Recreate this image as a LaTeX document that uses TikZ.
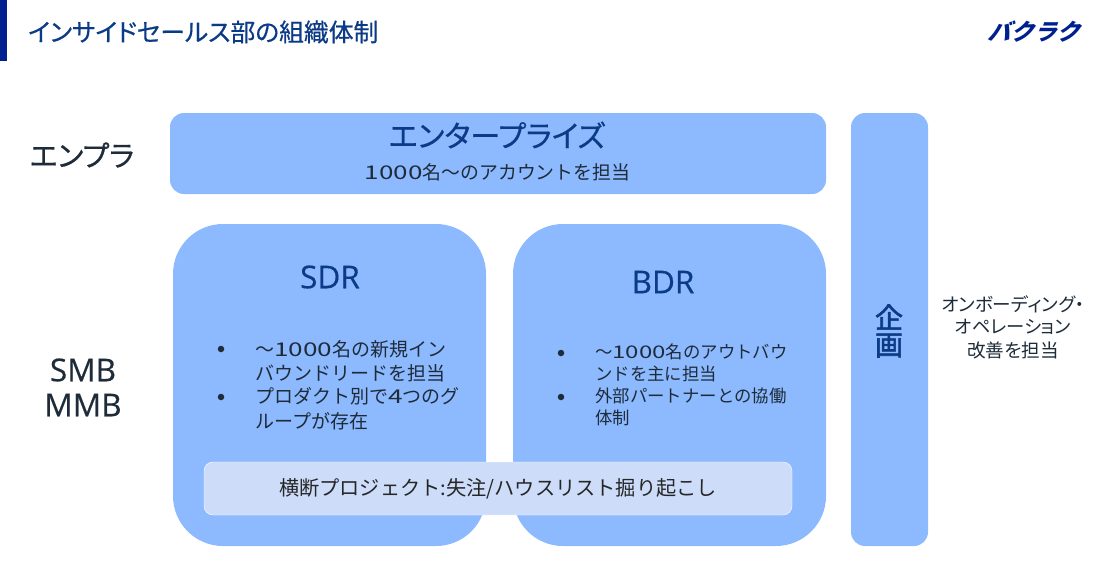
\documentclass[tikz,border=0pt]{standalone}
\usepackage{fontspec}
\setmainfont{Noto Sans CJK JP}
\newfontfamily\paltfont[RawFeature=+palt]{Noto Sans CJK JP}
\newfontfamily\medfont[FakeBold=0.5,RawFeature=+palt]{Noto Sans CJK JP}
\newfontfamily\heavyfont[FakeBold=2]{Noto Sans CJK JP}
\newfontfamily\latinfont[FakeBold=0.4]{Open Sans}
\definecolor{panelblue}{HTML}{8DB9FF}
\definecolor{barblue}{HTML}{CCDCF9}
\definecolor{navy}{HTML}{0B3A86}
\definecolor{logoblue}{HTML}{00208F}
\definecolor{inktext}{HTML}{1E2C3A}
\newcommand{\fs}[1]{\fontsize{#1}{#1}\selectfont}
\newcommand{\widedigits}[1]{\scalebox{1.38}[1]{#1}}

\begin{document}
\begin{tikzpicture}[x=1pt, y=-1pt,
    panel/.style={fill=panelblue, rounded corners=#1, inner sep=0},
    head/.style={text=navy, inner sep=0},
    body/.style={text=inktext, inner sep=0, align=center},
    dotmark/.style={circle, fill=inktext, minimum size=6.5pt, inner sep=0},
]

    % Page size
    \def\xmax{1099}
    \def\ymax{573}
    \useasboundingbox (0,0) rectangle (\xmax,\ymax);

    % Title
    \fill[logoblue] (0,0) rectangle (7,61);
    \node[head, anchor=west] (title) at (28,32) {\fs{24.8}\medfont インサイドセールス部の組織体制};
    \node[text=logoblue, inner sep=0, xslant=0.35, transform shape] (logo) at (1037,32) {\fs{23}\bfseries バクラク};

    % Panels
    \fill[panel=14pt] (170,113) rectangle (826,194);
    \fill[panel=50pt] (173,224) rectangle (486,546);
    \fill[panel=50pt] (513,224) rectangle (826,546);
    \fill[panel=14pt] (851,113) rectangle (928,546);

    % Row labels
    \node[body] (enpura) at (82,155) {\fs{29}\medfont エンプラ};
    \node[body] (smb) at (83,370) {\fs{31.5}\latinfont SMB};
    \node[body] (mmb) at (83,405) {\fs{31.5}\latinfont MMB};

    % Enterprise
    \node[head] (enterprise) at (497,135) {\fs{30}\medfont エンタープライズ};
    \node[body] (enterprisesub) at (497.5,172) {\fs{18.9}\widedigits{1000}名〜のアカウントを担当};

    % SDR
    \node[head] (sdr) at (330,277) {\fs{31.5}\latinfont SDR};
    \foreach \n/\y/\s in {a/349/〜\widedigits{1000}名の新規イン, b/373/バウンドリードを担当, c/396/プロダクト別で\widedigits{4}つのグ, d/421/ループが存在}{
        \node[body, anchor=west] (sdr\n) at (255,\y) {\fs{19}\s};
    }
    \node[dotmark] (sdrdota) at (221,349) {};
    \node[dotmark] (sdrdotb) at (221,397) {};

    % BDR
    \node[head] (bdr) at (663,282) {\fs{31.5}\latinfont BDR};
    \foreach \n/\y/\s in {a/352/〜\widedigits{1000}名のアウトバウ, b/374/ンドを主に担当, c/396/外部パートナーとの協働, d/418/体制}{
        \node[body, anchor=west] (bdr\n) at (595,\y) {\fs{17.4}\s};
    }
    \node[dotmark] (bdrdota) at (561,353) {};
    \node[dotmark] (bdrdotb) at (561,397) {};

    % Cross project
    \filldraw[fill=barblue, draw=white, rounded corners=9pt] (204,462) rectangle (792,515);
    \node[body, text=black!85] (cross) at (498,489) {\fs{20.2}横断プロジェクト:失注/ハウスリスト掘り起こし};

    % Planning
    \node[head, align=center] (plan) at (889,331) {\fs{28}\heavyfont 企\\[3pt]\fs{28}\heavyfont 画};
    \node[body] (notea) at (1013,304) {\fs{18.6}\paltfont オンボーディング・};
    \node[body] (noteb) at (1013,327) {\fs{18.3}\paltfont オペレーション};
    \node[body] (notec) at (1013,350) {\fs{18.6}\paltfont 改善を担当};

\end{tikzpicture}
\end{document}
